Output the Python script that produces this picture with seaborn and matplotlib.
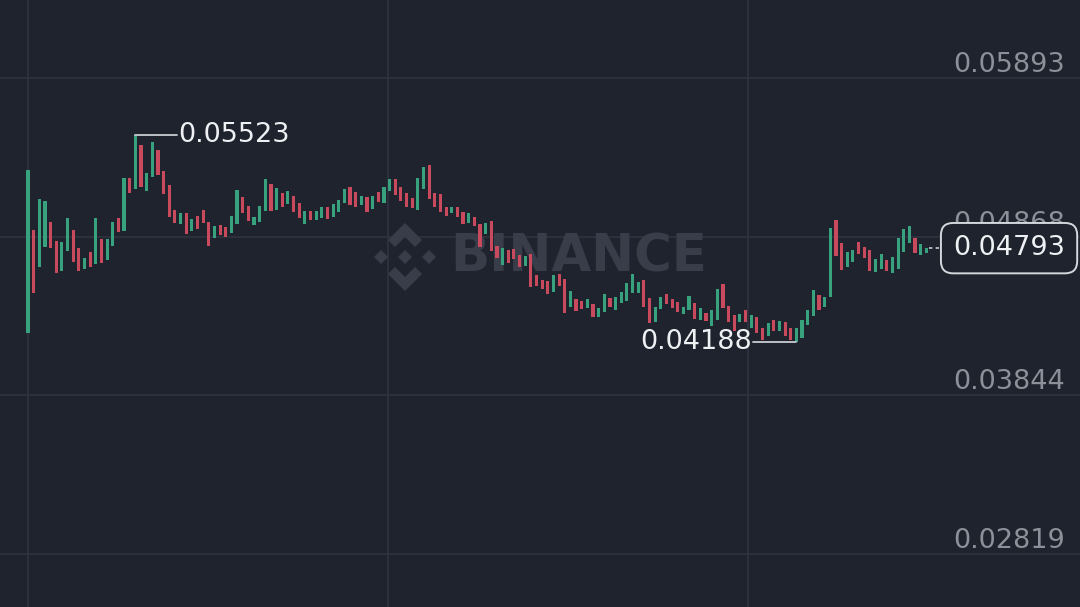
import numpy as np
import pandas as pd
import matplotlib
matplotlib.use("Agg")
import matplotlib.pyplot as plt
import matplotlib.transforms as mtransforms
from matplotlib.patches import Polygon
import seaborn as sns

# =========================================================
# Candle data
# =========================================================
opens = [
    0.04245, 0.04911, 0.04672, 0.04801, 0.04962, 0.04840, 0.04646, 0.04775, 0.04911, 0.04794,
    0.04659, 0.04768, 0.04691, 0.04853, 0.04717, 0.04807, 0.04988, 0.04905, 0.05246, 0.05176,
    0.05460, 0.05163, 0.05253, 0.05428, 0.05292, 0.05202, 0.05040, 0.04950, 0.05021, 0.04905,
    0.05001, 0.05040, 0.04962, 0.04859, 0.04943, 0.04930, 0.04892, 0.04950, 0.05124, 0.05065,
    0.04943, 0.04962, 0.05034, 0.05208, 0.05040, 0.05150, 0.05078, 0.05130, 0.05085, 0.04950,
    0.05034, 0.04975, 0.04988, 0.05059, 0.04995, 0.05027, 0.05085, 0.05189, 0.05156, 0.05072,
    0.05124, 0.05046, 0.05156, 0.05085, 0.05163, 0.05240, 0.05189, 0.05150, 0.05117, 0.05040,
    0.05176, 0.05331, 0.05150, 0.05143, 0.05059, 0.05021, 0.05059, 0.05027, 0.04956, 0.04995,
    0.04950, 0.04885, 0.04969, 0.04807, 0.04685, 0.04781, 0.04788, 0.04749, 0.04678, 0.04755,
    0.04620, 0.04587, 0.04581, 0.04510, 0.04626, 0.04594, 0.04413, 0.04465, 0.04452, 0.04407,
    0.04432, 0.04348, 0.04380, 0.04471, 0.04393, 0.04439, 0.04452, 0.04504, 0.04504, 0.04587,
    0.04471, 0.04316, 0.04400, 0.04497, 0.04465, 0.04445, 0.04367, 0.04393, 0.04439, 0.04329,
    0.04374, 0.04290, 0.04329, 0.04561, 0.04419, 0.04361, 0.04316, 0.04393, 0.04277, 0.04348,
    0.04277, 0.04225, 0.04329, 0.04258, 0.04316, 0.04277, 0.04188, 0.04212, 0.04297, 0.04355,
    0.04491, 0.04413, 0.04478, 0.04975, 0.04827, 0.04672, 0.04704, 0.04833, 0.04801, 0.04781,
    0.04639, 0.04659, 0.04717, 0.04633, 0.04659, 0.04768, 0.04827, 0.04859, 0.04749, 0.04762,
]
closes = [
    0.05298, 0.04504, 0.05111, 0.05098, 0.04794, 0.04633, 0.04833, 0.04988, 0.04704, 0.04646,
    0.04729, 0.04672, 0.04988, 0.04698, 0.04853, 0.04962, 0.04898, 0.05246, 0.05150, 0.05523,
    0.05189, 0.05279, 0.05479, 0.05266, 0.05143, 0.04995, 0.04956, 0.05021, 0.04885, 0.04982,
    0.04917, 0.04956, 0.04807, 0.04937, 0.04879, 0.04866, 0.05001, 0.05169, 0.05021, 0.04969,
    0.04995, 0.05065, 0.05240, 0.05034, 0.05182, 0.05059, 0.05163, 0.05027, 0.04988, 0.05034,
    0.04975, 0.05034, 0.05059, 0.04982, 0.05078, 0.05104, 0.05176, 0.05072, 0.05059, 0.05130,
    0.05027, 0.05130, 0.05091, 0.05189, 0.05240, 0.05137, 0.05098, 0.05059, 0.05052, 0.05246,
    0.05318, 0.05111, 0.05059, 0.05027, 0.05001, 0.05059, 0.04995, 0.04950, 0.05021, 0.04937,
    0.04801, 0.04956, 0.04775, 0.04729, 0.04794, 0.04698, 0.04723, 0.04672, 0.04742, 0.04542,
    0.04548, 0.04529, 0.04497, 0.04620, 0.04548, 0.04374, 0.04516, 0.04387, 0.04400, 0.04465,
    0.04348, 0.04407, 0.04497, 0.04413, 0.04478, 0.04510, 0.04568, 0.04626, 0.04574, 0.04413,
    0.04310, 0.04413, 0.04478, 0.04432, 0.04407, 0.04380, 0.04413, 0.04484, 0.04335, 0.04407,
    0.04322, 0.04393, 0.04529, 0.04407, 0.04316, 0.04258, 0.04367, 0.04316, 0.04361, 0.04245,
    0.04199, 0.04310, 0.04258, 0.04322, 0.04225, 0.04199, 0.04277, 0.04329, 0.04393, 0.04523,
    0.04393, 0.04478, 0.04924, 0.04742, 0.04652, 0.04768, 0.04781, 0.04755, 0.04729, 0.04646,
    0.04723, 0.04755, 0.04646, 0.04736, 0.04859, 0.04917, 0.04937, 0.04762, 0.04820, 0.04793,
]

price_ticks = [0.05893, 0.04868, 0.03844, 0.02819]
price_labels = ["0.05893", "0.04868", "0.03844", "0.02819"]
high_label = "0.05523"
low_label = "0.04188"
last_label = "0.04793"

# =========================================================
# Style
# =========================================================
BG = "#1f232d"
GRID = "#2e3340"
UP = "#38a27e"
DOWN = "#c94a5c"
AXIS_TXT = "#8b9099"
TXT = "#eef0f3"
MARK = "#383d49"

sns.set_theme(style="dark", rc={
    "axes.facecolor": BG,
    "figure.facecolor": BG,
    "axes.edgecolor": BG,
    "grid.color": GRID,
})
plt.rcParams["font.family"] = ["DejaVu Sans"]

df = pd.DataFrame({"open": opens, "close": closes})
df["idx"] = np.arange(len(df))
df["low"] = df[["open", "close"]].min(axis=1)
df["high"] = df[["open", "close"]].max(axis=1)
df["up"] = df["close"] >= df["open"]

W, H = 1080, 607
fig = plt.figure(figsize=(W / 100, H / 100), dpi=100)
ax = fig.add_axes([0, 0, 1, 1])

step_px = 5.65      # candle spacing in pixels
x0_px = 28          # first candle position
ax.set_xlim(-x0_px / step_px, (W - x0_px) / step_px)
ax.set_ylim(0.024735, 0.06397)

# grid
ax.set_xticks([0, 360 / step_px, 720 / step_px])
ax.set_yticks(price_ticks)
ax.grid(True, color=GRID, linewidth=1.2)
ax.tick_params(left=False, bottom=False, labelleft=False, labelbottom=False)
for s in ax.spines.values():
    s.set_visible(False)

# watermark
pix = mtransforms.IdentityTransform()
ax.text(579, H - 257, "BINANCE", transform=pix, ha="center", va="center",
        fontsize=37, fontweight="bold", color=MARK, zorder=1)
cx, cy = 405, H - 257
shapes = [
    [(0, 34), (17, 17), (10, 10), (0, 20), (-10, 10), (-17, 17)],
    [(0, -34), (17, -17), (10, -10), (0, -20), (-10, -10), (-17, -17)],
    [(0, 7), (7, 0), (0, -7), (-7, 0)],
    [(-24, 7), (-17, 0), (-24, -7), (-31, 0)],
    [(24, 7), (31, 0), (24, -7), (17, 0)],
]
for pts in shapes:
    ax.add_patch(Polygon([(cx + a, cy + b) for a, b in pts], closed=True,
                         transform=pix, facecolor=MARK, edgecolor="none", zorder=1))

# candles
colors = np.where(df["up"], UP, DOWN)
ax.bar(df["idx"], df["high"] - df["low"], bottom=df["low"], width=0.55,
       color=colors, linewidth=0, zorder=3)

# price labels on the right
for p, lab in zip(price_ticks, price_labels):
    ax.annotate(lab, xy=(1.0, p), xycoords=("axes fraction", "data"),
                xytext=(-15, 0), textcoords="offset pixels",
                ha="right", va="bottom", fontsize=19.5, color=AXIS_TXT, zorder=2)

# high marker
i_hi = int(df["high"].idxmax())
hi = df["high"].max()
ax.plot([i_hi, i_hi + 7.3], [hi, hi], color="#c9ccd2", lw=1.3, zorder=4)
ax.text(i_hi + 7.6, hi, high_label, ha="left", va="center",
        fontsize=19.5, color=TXT, zorder=4)

# low marker
i_lo = int(df["low"].idxmin())
lo = df["low"].min()
ax.plot([i_lo - 7.6, i_lo], [lo, lo], color="#c9ccd2", lw=1.3, zorder=4)
ax.text(i_lo - 7.8, lo, low_label, ha="right", va="center",
        fontsize=19.5, color=TXT, zorder=4)

# last price
last_i = len(df) - 1
last = df["close"].iloc[-1]
ax.plot([last_i + 0.5, last_i + 2.6], [last, last], color="#c9ccd2", lw=1.2,
        ls=(0, (2, 2)), zorder=4)
ax.annotate(last_label, xy=(1.0, last), xycoords=("axes fraction", "data"),
            xytext=(-15, 0), textcoords="offset pixels",
            ha="right", va="center", fontsize=19.5, color=TXT, zorder=6,
            bbox=dict(boxstyle="round,pad=0.45,rounding_size=0.45",
                      facecolor=BG, edgecolor="#d4d7dc", linewidth=1.4))

fig.savefig("out.png", dpi=100, facecolor=BG)
plt.close(fig)
